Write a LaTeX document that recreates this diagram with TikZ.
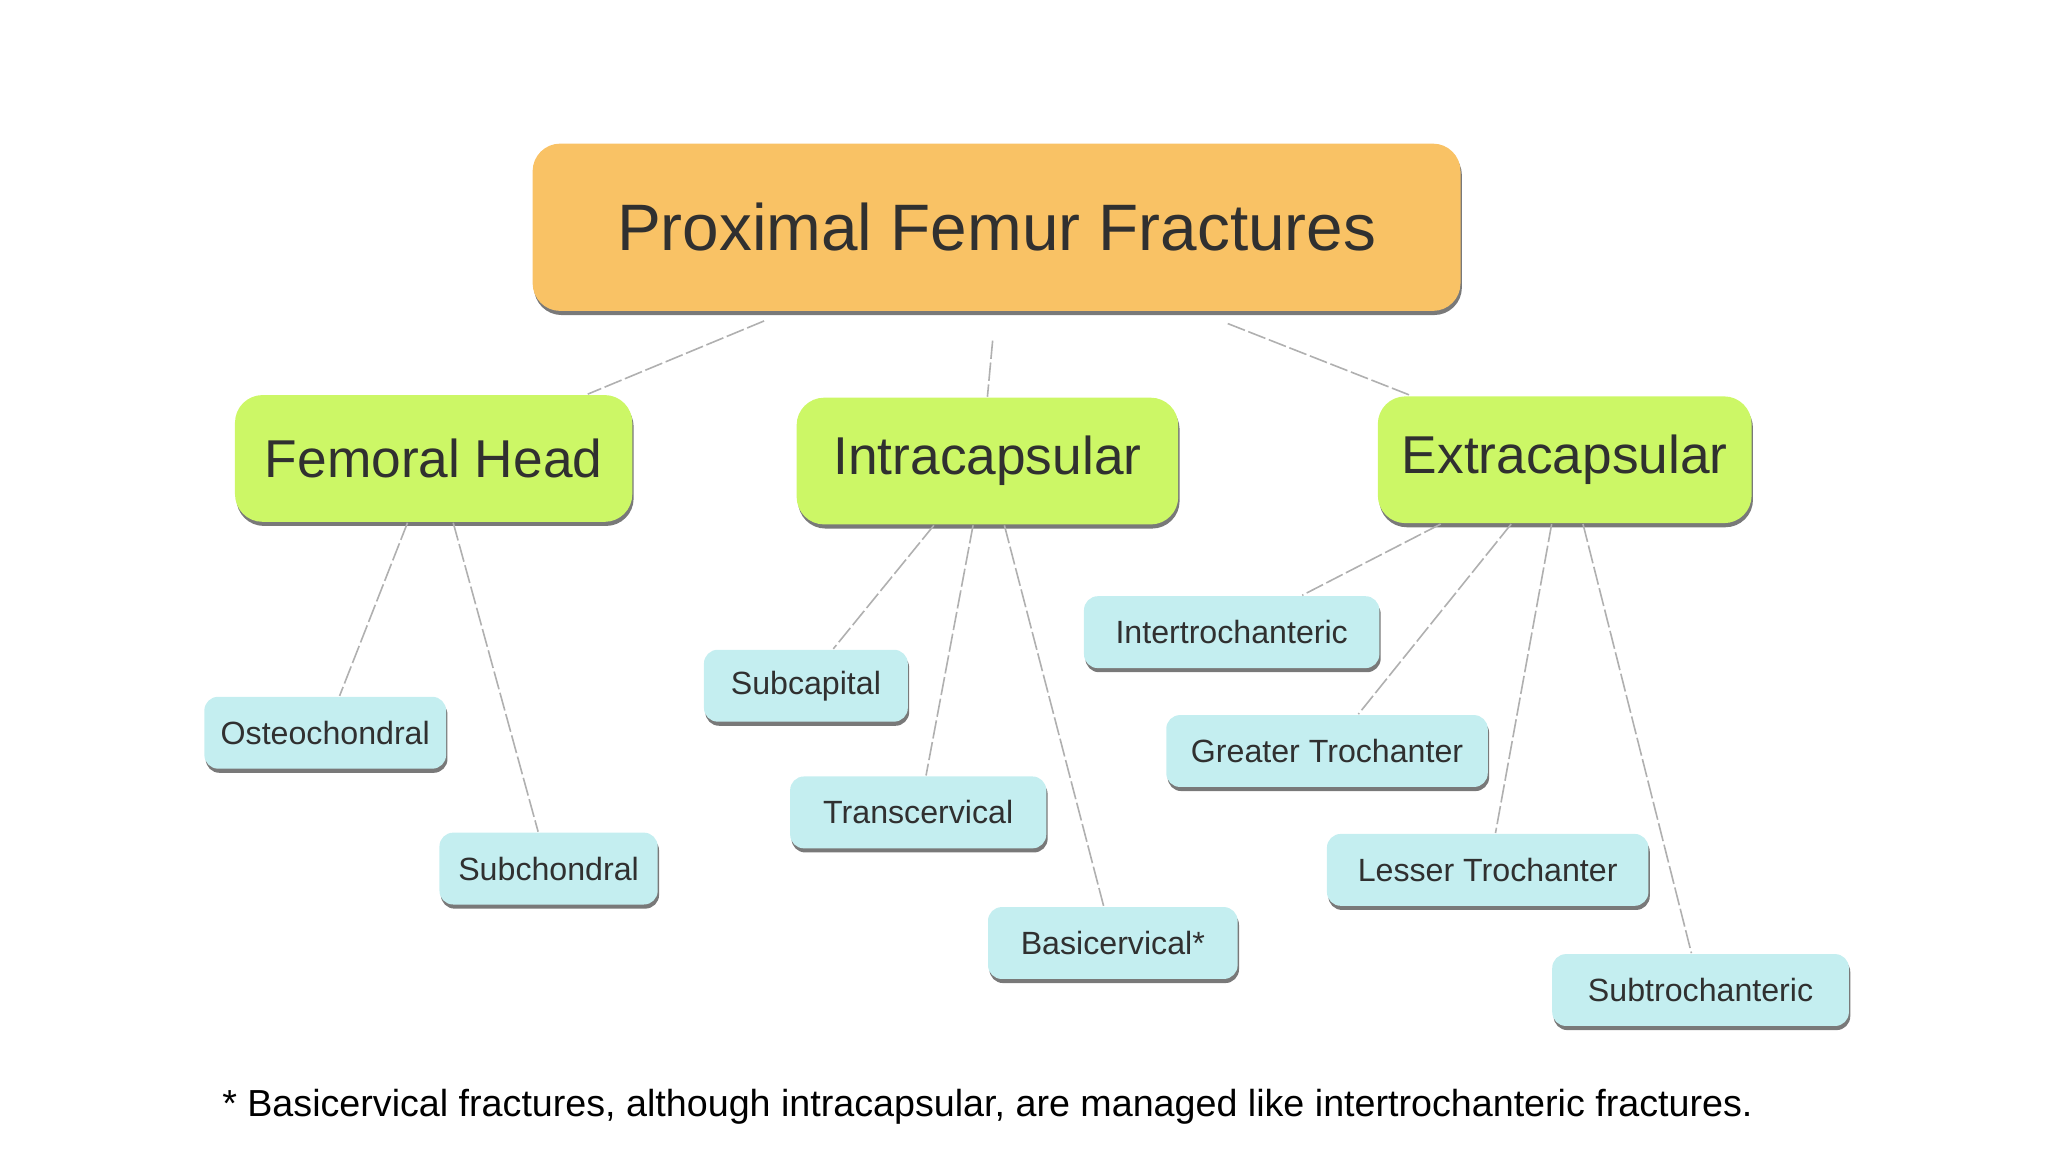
\documentclass[tikz,border=0pt]{standalone}
\usepackage{fontspec}
\setmainfont{Liberation Sans}
\usetikzlibrary{calc,shadows}
\definecolor{rootc}{HTML}{F9C265}
\definecolor{greenc}{HTML}{CCF766}
\definecolor{cyanc}{HTML}{C4EEF0}
\definecolor{txt}{HTML}{303030}
\definecolor{linec}{HTML}{B0B0B0}
\tikzset{
 base/.style={rounded corners=6pt, text=txt, inner sep=0pt, drop shadow={shadow xshift=0.3pt, shadow yshift=-0.9pt, opacity=0.7, fill=black!75}},
 rootbox/.style={base, fill=rootc, minimum width=7.10cm, minimum height=1.28cm, font=\fontsize{14.3}{16}\selectfont},
 midbox/.style={base, fill=greenc, minimum width=#1, minimum height=0.97cm, font=\fontsize{11.6}{14}\selectfont},
 leaf/.style={base, rounded corners=3pt, fill=cyanc, minimum width=#1, minimum height=0.55cm, font=\fontsize{7}{8}\selectfont},
 conn/.style={draw=linec, line width=0.35pt, dash pattern=on 4pt off 0.8pt}
}
\begin{document}
\begin{tikzpicture}[x=0.01cm,y=-0.01cm]
\useasboundingbox (0,0) rectangle (1568,882);
\node[rootbox] (root) at (763,174) {Proximal Femur Fractures};
\node[midbox=3.04cm] (fh) at (332,351) {Femoral Head};
\node[midbox=2.92cm] (ic) at (756,353) {Intracapsular};
\node[midbox=2.86cm] (ec) at (1198,352) {Extracapsular};
\node[leaf=1.85cm] (os) at (249,561) {Osteochondral};
\node[leaf=1.67cm] (sc) at (420,665) {Subchondral};
\node[leaf=1.56cm] (scap) at (617,525) {Subcapital};
\node[leaf=1.96cm] (tc) at (703,622) {Transcervical};
\node[leaf=1.91cm] (bc) at (852,722) {Basicervical*};
\node[leaf=2.26cm] (it) at (943,484) {Intertrochanteric};
\node[leaf=2.46cm] (gt) at (1016,575) {Greater Trochanter};
\node[leaf=2.46cm] (lt) at (1139,666) {Lesser Trochanter};
\node[leaf=2.27cm] (st) at (1302,758) {Subtrochanteric};
\node[text=black, font=\fontsize{8.2}{10}\selectfont] (fn) at (756,847) {* Basicervical fractures, although intracapsular, are managed like intertrochanteric fractures.};
% root to mids
\draw[conn] ($(root.south)+(-178,7)$) -- ($(fh.north)+(118,0)$);
\draw[conn] ($(root.south)+(-3,22)$) -- (ic.north);
\draw[conn] ($(root.south)+(177,9)$) -- ($(ec.north)+(-118,0)$);
% femoral head
\draw[conn] ($(fh.south)+(-20,0)$) -- ($(os.north)+(11,0)$);
\draw[conn] ($(fh.south)+(15,0)$) -- ($(sc.north)+(-8,0)$);
% intracapsular
\draw[conn] ($(ic.south)+(-41,0)$) -- ($(scap.north)+(21,0)$);
\draw[conn] ($(ic.south)+(-11,0)$) -- ($(tc.north)+(6,0)$);
\draw[conn] ($(ic.south)+(13,0)$) -- ($(bc.north)+(-7,0)$);
% extracapsular
\draw[conn] ($(ec.south)+(-95,0)$) -- ($(it.north)+(54,0)$);
\draw[conn] ($(ec.south)+(-41,0)$) -- ($(gt.north)+(24,0)$);
\draw[conn] ($(ec.south)+(-10,0)$) -- ($(lt.north)+(6,0)$);
\draw[conn] ($(ec.south)+(14,0)$) -- ($(st.north)+(-7,0)$);
\end{tikzpicture}
\end{document}
